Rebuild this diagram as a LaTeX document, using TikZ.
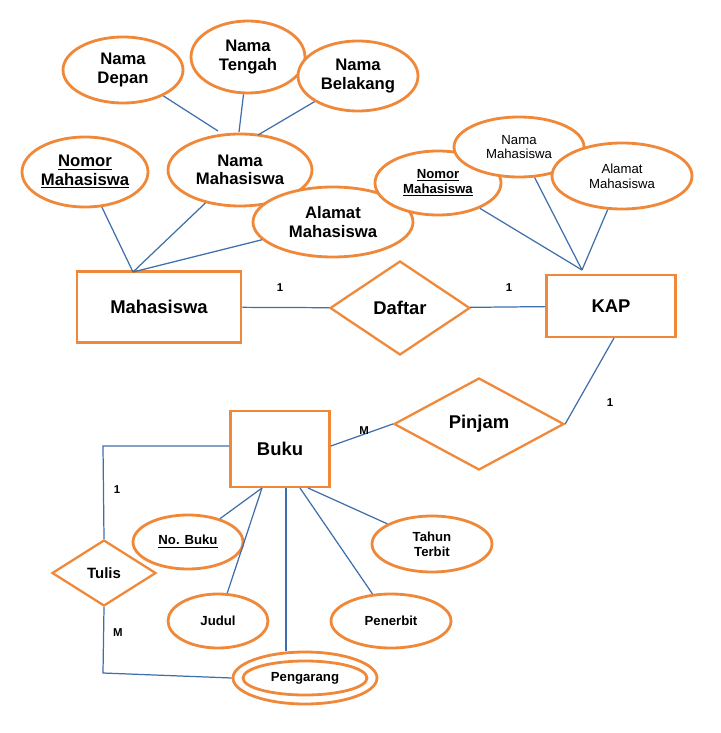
\documentclass[tikz,border=0pt]{standalone}
\usepackage{fontspec}
\setmainfont{Liberation Sans}
\usetikzlibrary{shapes.geometric}
\definecolor{org}{HTML}{F0883A}
\definecolor{bl}{HTML}{3F6FAA}
\begin{document}
\begin{tikzpicture}[x=0.02cm,y=-0.02cm,
 att/.style={ellipse,draw=org,line width=1.6pt,fill=white,inner sep=0pt,align=center,font=\bfseries\fontsize{9.5}{10.5}\selectfont},
 satt/.style={att,font=\fontsize{7.5}{8.5}\selectfont},
 ent/.style={rectangle,draw=org,line width=1.6pt,fill=white,font=\bfseries\fontsize{10.5}{12}\selectfont},
 rel/.style={diamond,draw=org,line width=1.3pt,fill=white,inner sep=0pt,font=\bfseries\fontsize{10.5}{12}\selectfont},
 ln/.style={draw=bl,line width=0.7pt},
 card/.style={font=\bfseries\fontsize{6.5}{7}\selectfont}]
\useasboundingbox (0,0) rectangle (720,733);
% attributes of Mahasiswa
\node[att,minimum width=120*0.02cm,minimum height=66*0.02cm] (nd) at (123,70) {Nama\\Depan};
\node[att,minimum width=114*0.02cm,minimum height=72*0.02cm] (nt) at (248,57) {Nama\\Tengah};
\node[att,minimum width=120*0.02cm,minimum height=70*0.02cm] (nb) at (358,76) {Nama\\Belakang};
\node[att,minimum width=126*0.02cm,minimum height=70*0.02cm] (nm) at (85,172) {\underline{Nomor}\\\underline{Mahasiswa}};
\node[att,minimum width=144*0.02cm,minimum height=72*0.02cm] (nama) at (240,170) {Nama\\Mahasiswa};
\node[att,minimum width=160*0.02cm,minimum height=70*0.02cm] (am) at (333,222) {Alamat\\Mahasiswa};
\node[ent,minimum width=164*0.02cm,minimum height=71*0.02cm] (mhs) at (159,307) {Mahasiswa};
\node[rel,minimum width=140*0.02cm,minimum height=94*0.02cm] (daftar) at (400,308) {Daftar};
\node[ent,minimum width=129*0.02cm,minimum height=62*0.02cm] (kap) at (611,306) {KAP};
\node[satt,minimum width=126*0.02cm,minimum height=64*0.02cm] (knm) at (438,183) {\textbf{\underline{Nomor}}\\\textbf{\underline{Mahasiswa}}};
\node[satt,minimum width=130*0.02cm,minimum height=60*0.02cm] (kna) at (519,147) {Nama\\Mahasiswa};
\node[satt,minimum width=140*0.02cm,minimum height=66*0.02cm] (kam) at (622,176) {Alamat\\Mahasiswa};
\node[rel,minimum width=170*0.02cm,minimum height=92*0.02cm] (pinjam) at (479,424) {Pinjam};
\node[ent,minimum width=99*0.02cm,minimum height=76*0.02cm] (buku) at (280,449) {Buku};
\node[rel,minimum width=104*0.02cm,minimum height=66*0.02cm,font=\bfseries\fontsize{8.5}{10}\selectfont] (tulis) at (104,573) {Tulis};
\node[satt,font=\bfseries\fontsize{7.5}{8.5}\selectfont,minimum width=110*0.02cm,minimum height=54*0.02cm] (nob) at (188,542) {\underline{No. Buku}};
\node[satt,font=\bfseries\fontsize{7.5}{8.5}\selectfont,minimum width=100*0.02cm,minimum height=54*0.02cm] (jud) at (218,621) {Judul};
\node[satt,font=\bfseries\fontsize{7.5}{8.5}\selectfont,minimum width=144*0.02cm,minimum height=52*0.02cm] (peng) at (305,678) {};
\node[satt,font=\bfseries\fontsize{7.5}{8.5}\selectfont,minimum width=124*0.02cm,minimum height=34*0.02cm] (peng2) at (305,678) {Pengarang};
\node[satt,font=\bfseries\fontsize{7.5}{8.5}\selectfont,minimum width=120*0.02cm,minimum height=54*0.02cm] (pen) at (391,621) {Penerbit};
\node[satt,font=\bfseries\fontsize{7.5}{8.5}\selectfont,minimum width=120*0.02cm,minimum height=56*0.02cm] (tt) at (432,544) {Tahun\\Terbit};
% connectors
\coordinate (mtop) at (133,272);
\coordinate (ktop) at (582,270);
\coordinate (ntop) at (240,134);
\coordinate (bb) at (262,488);
\coordinate (t1) at (103,446);
\coordinate (t2) at (103,673);
\begin{scope}[on background layer/.style={}]
\draw[ln] (nd) -- (218,131);
\draw[ln] (nt) -- (239,132);
\draw[ln] (nb) -- (258,135);
\draw[ln] (nm) -- (mtop);
\draw[ln] (nama) -- (mtop);
\draw[ln] (am) -- (mtop);
\draw[ln] (mhs) -- (daftar);
\draw[ln] (daftar) -- (kap);
\draw[ln] (knm) -- (ktop);
\draw[ln] (kna) -- (ktop);
\draw[ln] (kam) -- (ktop);
\draw[ln] (614,338) -- (pinjam.east);
\draw[ln] (pinjam.west) -- (buku.east |- 446,446);
\draw[ln] (buku.west |- 446,446) -- (t1) -- (tulis.north);
\draw[ln] (tulis.south) -- (t2) -- (peng.west);
\draw[ln] (bb) -- (nob);
\draw[ln] (bb) -- (jud);
\draw[ln] (286,488) -- (peng.north -| 286,0);
\draw[ln] (300,488) -- (pen);
\draw[ln] (308,488) -- (tt);
\end{scope}
\node[card] at (280,288) {1};
\node[card] at (509,288) {1};
\node[card] at (610,403) {1};
\node[card] at (364,431) {M};
\node[card] at (117,490) {1};
\node[card] at (118,633) {M};
\end{tikzpicture}
\end{document}
